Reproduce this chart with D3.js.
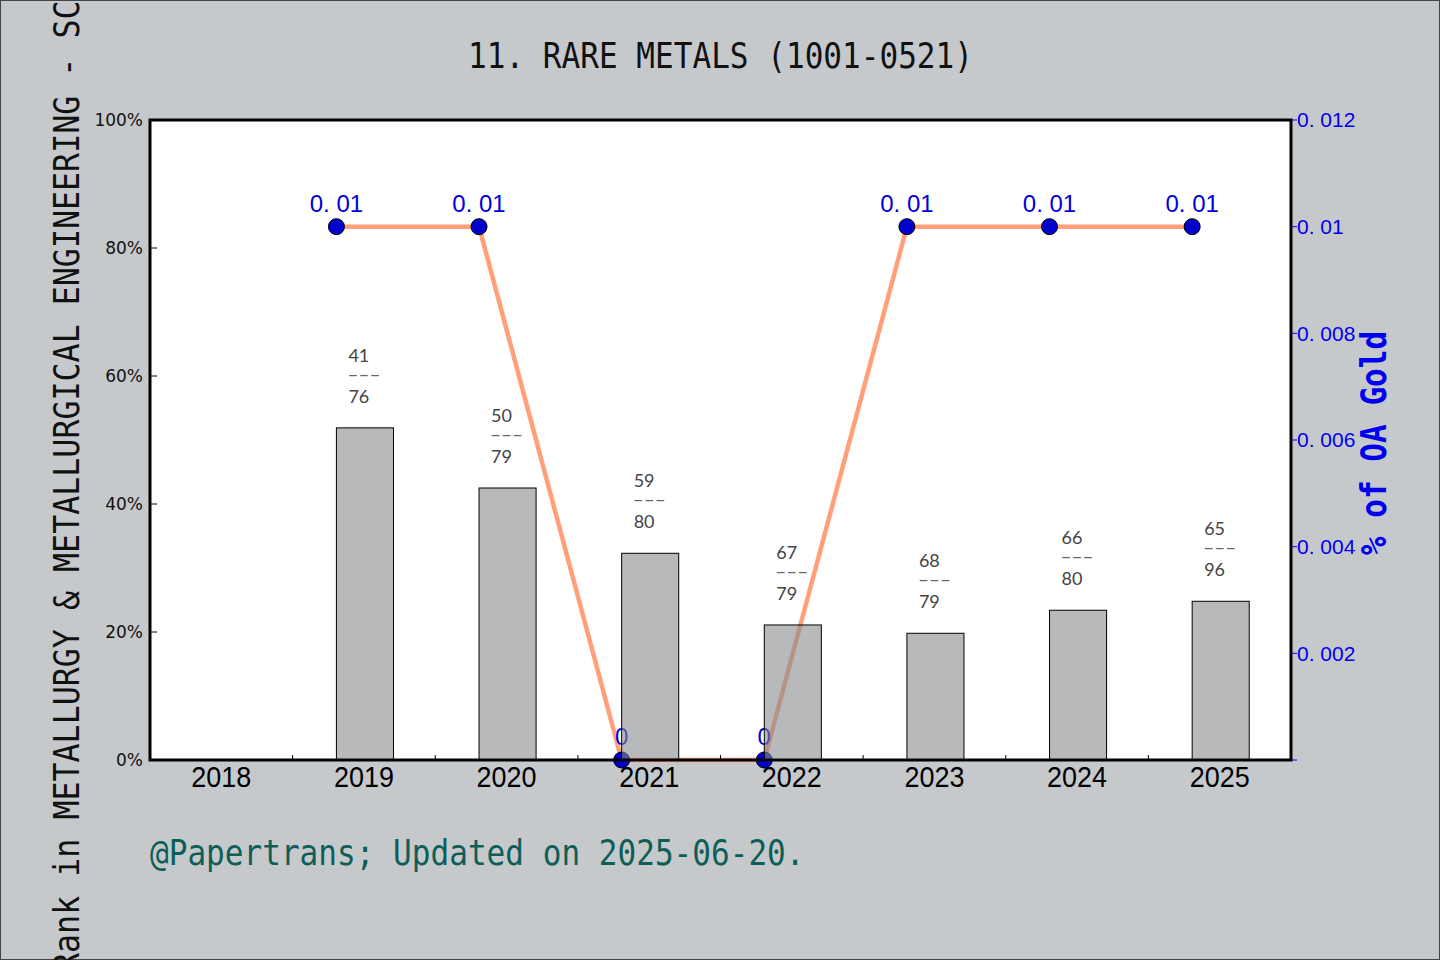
<!DOCTYPE html>
<html>
<head>
<meta charset="utf-8">
<script src="https://cdn.jsdelivr.net/npm/d3@7"></script>
<style>
  body { margin: 0; background: #c6c9cc; }
  svg { display: block; }
</style>
</head>
<body>
<div id="chart"></div>
<script>
// Chart data
const years = ["2018", "2019", "2020", "2021", "2022", "2023", "2024", "2025"];
const rankShare = [null, 0.519, 0.425, 0.323, 0.211, 0.198, 0.234, 0.248];
const rankNum = [null, 41, 50, 59, 67, 68, 66, 65];
const rankTotal = [null, 76, 79, 80, 79, 79, 80, 96];
const oaGold = [null, 0.01, 0.01, 0, 0, 0.01, 0.01, 0.01];
const leftTicks = [0, 0.2, 0.4, 0.6, 0.8, 1.0];
const rightTicks = [0, 0.002, 0.004, 0.006, 0.008, 0.01, 0.012];

const titleText = "11. RARE METALS (1001-0521)";
const leftTitle = "Rank in METALLURGY & METALLURGICAL ENGINEERING - SCIE";
const rightTitle = "% of OA Gold";
const footText = "@Papertrans; Updated on 2025-06-20.";

const W = 1440, H = 960;
const margins = { top: 120, right: 148, bottom: 200, left: 150 };
const cw = 1291 - margins.left;
const ch = 760 - margins.top;
const monoFont = "'DejaVu Sans Mono', monospace";
const charW = 18.7; // per-character pitch of the condensed mono text

let svg = d3.select("#chart").append("svg")
  .attr("width", W)
  .attr("height", H);

svg.append("rect")
  .attr("x", 0.5).attr("y", 0.5)
  .attr("width", W - 1).attr("height", H - 1)
  .attr("fill", "#c6c9cc")
  .attr("stroke", "#444");

let x = d3.scaleBand().domain(years).range([0, cw]).padding(0);
let yL = d3.scaleLinear().domain([0, 1]).range([ch, 0]);
let yR = d3.scaleLinear().domain([0, 0.012]).range([ch, 0]);
const barW = x.bandwidth() * 0.4;

const fmtR = v => v === 0 ? "0" : d3.format("~g")(+v.toFixed(4)).replace(".", ". ");

let g = svg.append("g")
  .attr("transform", "translate(" + margins.left + "," + margins.top + ")");

// plot background
g.append("rect")
  .attr("width", cw).attr("height", ch)
  .attr("fill", "white");

const rows = years.map((d, i) => ({
  year: d, share: rankShare[i], num: rankNum[i], total: rankTotal[i], oa: oaGold[i]
}));
const pts = rows.filter(d => d.oa !== null);
const barLeft = d => x(d.year) + x.bandwidth() / 2 - barW / 2 + 1;

// OA gold line
g.append("path")
  .datum(pts)
  .attr("fill", "none")
  .attr("stroke", "#ffa07a")
  .attr("stroke-width", 4.5)
  .attr("d", d3.line().x(d => barLeft(d)).y(d => yR(d.oa)));

g.selectAll("circle.pt").data(pts).enter().append("circle")
  .attr("class", "pt")
  .attr("cx", d => barLeft(d))
  .attr("cy", d => yR(d.oa))
  .attr("r", 8)
  .attr("fill", "#0000cc")
  .attr("stroke", "black")
  .attr("stroke-width", 1);

g.selectAll("text.pt").data(pts).enter().append("text")
  .attr("class", "pt")
  .attr("x", d => barLeft(d))
  .attr("y", d => yR(d.oa) - 15)
  .attr("text-anchor", "middle")
  .attr("font-family", "'Liberation Sans', Arial, sans-serif")
  .attr("font-size", 24)
  .attr("fill", "#0000dd")
  .text(d => fmtR(d.oa));

// rank bars (drawn over the line, semi-transparent)
let bars = rows.filter(d => d.share !== null);
g.selectAll("rect.bar").data(bars).enter().append("rect")
  .attr("class", "bar")
  .attr("x", d => barLeft(d))
  .attr("y", d => yL(d.share))
  .attr("width", barW)
  .attr("height", d => ch - yL(d.share))
  .attr("fill", "rgb(137,138,140)")
  .attr("fill-opacity", 0.6)
  .attr("stroke", "black")
  .attr("stroke-width", 1);

// rank labels: num / dashes / total
let lab = g.selectAll("g.lab").data(bars).enter().append("g")
  .attr("class", "lab")
  .attr("font-family", "Lato, 'Liberation Sans', sans-serif")
  .attr("font-size", 18);
lab.append("text")
  .attr("x", d => barLeft(d) + 12)
  .attr("y", d => yL(d.share) - 66)
  .attr("fill", "#444")
  .text(d => d.num);
lab.append("text")
  .attr("x", d => barLeft(d) + 11)
  .attr("y", d => yL(d.share) - 47)
  .attr("font-size", 19)
  .attr("fill", "#666")
  .text("\u2013\u2013\u2013");
lab.append("text")
  .attr("x", d => barLeft(d) + 12)
  .attr("y", d => yL(d.share) - 25)
  .attr("fill", "#444")
  .text(d => d.total);

// left axis
let axL = g.append("g");
leftTicks.forEach(t => {
  axL.append("line")
    .attr("x1", 0).attr("x2", 7)
    .attr("y1", yL(t)).attr("y2", yL(t))
    .attr("stroke", "black");
  axL.append("text")
    .attr("x", -7)
    .attr("y", yL(t))
    .attr("dy", "0.35em")
    .attr("text-anchor", "end")
    .attr("font-family", "'DejaVu Sans', sans-serif")
    .attr("font-size", 17)
    .attr("fill", "#111")
    .text(d3.format(".0%")(t));
});

// right axis
let axR = g.append("g").attr("transform", "translate(" + cw + ",0)");
rightTicks.forEach(t => {
  axR.append("line")
    .attr("x1", 0).attr("x2", 6)
    .attr("y1", yR(t)).attr("y2", yR(t))
    .attr("stroke", "#0000ee");
  if (t > 0) {
    axR.append("text")
      .attr("x", 6)
      .attr("y", yR(t))
      .attr("dy", "0.35em")
      .attr("font-family", "'Liberation Sans', Arial, sans-serif")
      .attr("font-size", 21)
      .attr("fill", "#0000ee")
      .text(fmtR(t));
  }
});

// x axis: inner ticks at band edges + year labels
let axX = g.append("g").attr("transform", "translate(0," + ch + ")");
years.forEach((d, i) => {
  if (i > 0) {
    axX.append("line")
      .attr("x1", x(d)).attr("x2", x(d))
      .attr("y1", 0).attr("y2", -5)
      .attr("stroke", "black");
  }
  axX.append("text")
    .attr("x", x(d) + x.bandwidth() / 2)
    .attr("y", 27)
    .attr("text-anchor", "middle")
    .attr("font-family", "'Liberation Sans', Arial, sans-serif")
    .attr("font-size", 30)
    .attr("textLength", 60)
    .attr("lengthAdjust", "spacingAndGlyphs")
    .attr("fill", "black")
    .text(d);
});

// frame
g.append("rect")
  .attr("width", cw).attr("height", ch)
  .attr("fill", "none")
  .attr("stroke", "black")
  .attr("stroke-width", 3);

// titles
svg.append("text")
  .attr("x", margins.left + cw / 2)
  .attr("y", 68)
  .attr("text-anchor", "middle")
  .attr("font-family", monoFont)
  .attr("font-size", 35)
  .attr("textLength", titleText.length * charW)
  .attr("lengthAdjust", "spacingAndGlyphs")
  .attr("fill", "#111")
  .text(titleText);

svg.append("text")
  .attr("transform", "translate(79,972) rotate(-90)")
  .attr("font-family", monoFont)
  .attr("font-size", 35)
  .attr("textLength", leftTitle.length * 19.05)
  .attr("lengthAdjust", "spacingAndGlyphs")
  .attr("fill", "#111")
  .text(leftTitle);

svg.append("text")
  .attr("transform", "translate(1386,443) rotate(-90)")
  .attr("text-anchor", "middle")
  .attr("font-family", monoFont)
  .attr("font-size", 35)
  .attr("font-weight", "bold")
  .attr("textLength", rightTitle.length * charW)
  .attr("lengthAdjust", "spacingAndGlyphs")
  .attr("fill", "#0000ee")
  .text(rightTitle);

svg.append("text")
  .attr("x", 150)
  .attr("y", 865)
  .attr("font-family", monoFont)
  .attr("font-size", 35)
  .attr("textLength", footText.length * charW)
  .attr("lengthAdjust", "spacingAndGlyphs")
  .attr("fill", "#0e5e57")
  .text(footText);
</script>
</body>
</html>
